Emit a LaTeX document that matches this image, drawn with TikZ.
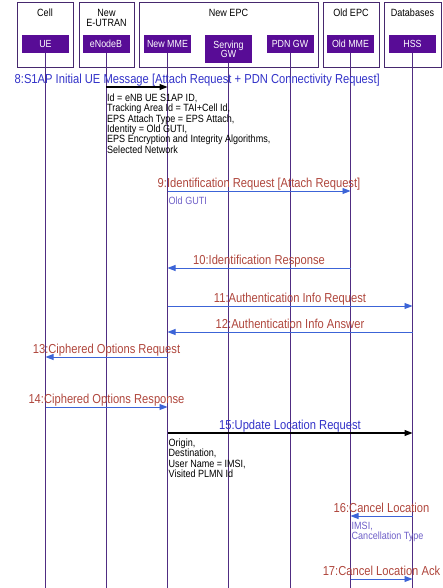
\documentclass[tikz,border=0pt]{standalone}
\usepackage{fontspec}
\setmainfont{Liberation Sans}[FakeStretch=0.86]
\usepackage{tikz}
\usetikzlibrary{positioning,calc}
\usetikzlibrary{arrows.meta}
\definecolor{BoxPurple}{RGB}{88,12,150}
\definecolor{LifePurple}{RGB}{80,45,130}
\definecolor{GroupLine}{RGB}{70,40,110}
\definecolor{MsgBlue}{RGB}{60,100,215}
\definecolor{LblBlue}{RGB}{50,50,200}
\definecolor{LblRed}{RGB}{175,70,60}
\definecolor{NoteBlue}{RGB}{110,95,200}
\tikzset{
	group/.style={draw=GroupLine,fill=white,line width=0.8pt},
	grouptxt/.style={anchor=north,align=center,inner sep=0pt,font=\fontsize{10.5}{10}\selectfont},
	party/.style={fill=BoxPurple,text=white,anchor=north,minimum width=47pt,minimum height=18pt,
		inner sep=1pt,align=center,font=\fontsize{10.3}{10.5}\selectfont},
	life/.style={draw=LifePurple,line width=0.8pt},
	msg/.style={draw=MsgBlue,line width=0.9pt,-{Triangle[length=8pt,width=6pt]}},
	bigmsg/.style={draw=black,line width=1.3pt,-{Triangle[length=8pt,width=6pt]}},
	lbl/.style={anchor=base,yshift=3.5pt,inner sep=0pt,text=LblRed,font=\fontsize{13}{13}\selectfont},
	blbl/.style={lbl,text=LblBlue},
	note/.style={anchor=north west,inner sep=0pt,align=left,font=\fontsize{10.5}{10.4}\selectfont},
	bnote/.style={note,text=NoteBlue},
}
\begin{document}
\begin{tikzpicture}[x=1pt,y=-1pt]
	\useasboundingbox (0,0) rectangle (442,588);
	% groups
	\foreach \xa/\xb/\txt in {17/73/Cell,79/134/{New\\E-UTRAN},139/318/New EPC,323/379/Old EPC,384/441/Databases}{
		\draw[group] (\xa,2) rectangle (\xb,67);
		\node[grouptxt] at ({(\xa+\xb)/2},9) {\txt};
	}
	% participants
	\foreach \n/\x/\txt in {ue/45.5/UE,enb/106/eNodeB,mme/167.5/New MME,pgw/290/PDN GW,old/350.5/Old MME,hss/412.5/HSS}
		\node[party] (\n) at (\x,35) {\txt};
	\node[party,minimum height=28pt] (sgw) at (228.5,35) {Serving\\[-1pt]GW};
	% lifelines
	\foreach \n in {ue,enb,mme,sgw,pgw,old,hss}{
		\coordinate (\n-end) at (\n.south |- 0,588);
		\draw[life] (\n.south) -- (\n-end);
	}
	% message rows
	\foreach \r/\y in {8/87,9/191,10/268,11/306,12/332,13/357,14/407,15/433,16/516,17/579}
		\coordinate (r\r) at (0,\y);
	% messages
	\draw[bigmsg] (enb |- r8) -- node[blbl,xshift=60.5pt]{8:S1AP Initial UE Message [Attach Request + PDN Connectivity Request]} (mme |- r8);
	\node[note] (n8) at ($(enb |- r8)+(1,6.5)$) {Id = eNB UE S1AP ID,\\Tracking Area Id = TAI+Cell Id,\\EPS Attach Type = EPS Attach,\\Identity = Old GUTI,\\EPS Encryption and Integrity Algorithms,\\Selected Network};
	\draw[msg] (mme |- r9) -- node[lbl]{9:Identification Request [Attach Request]} (old |- r9);
	\node[bnote] (n9) at ($(mme |- r9)+(1,5.5)$) {Old GUTI};
	\draw[msg] (old |- r10) -- node[lbl]{10:Identification Response} (mme |- r10);
	\draw[msg] (mme |- r11) -- node[lbl]{11:Authentication Info Request} (hss |- r11);
	\draw[msg] (hss |- r12) -- node[lbl]{12:Authentication Info Answer} (mme |- r12);
	\draw[msg] (mme |- r13) -- node[lbl]{13:Ciphered Options Request} (ue |- r13);
	\draw[msg] (ue |- r14) -- node[lbl]{14:Ciphered Options Response} (mme |- r14);
	\draw[bigmsg] (mme |- r15) -- node[blbl]{15:Update Location Request} (hss |- r15);
	\node[note] (n15) at ($(mme |- r15)+(1,5.5)$) {Origin,\\Destination,\\User Name = IMSI,\\Visited PLMN Id};
	\draw[msg] (hss |- r16) -- node[lbl]{16:Cancel Location} (old |- r16);
	\node[bnote] (n16) at ($(old |- r16)+(1,5.5)$) {IMSI,\\Cancellation Type};
	\draw[msg] (old |- r17) -- node[lbl]{17:Cancel Location Ack} (hss |- r17);
\end{tikzpicture}
\end{document}
